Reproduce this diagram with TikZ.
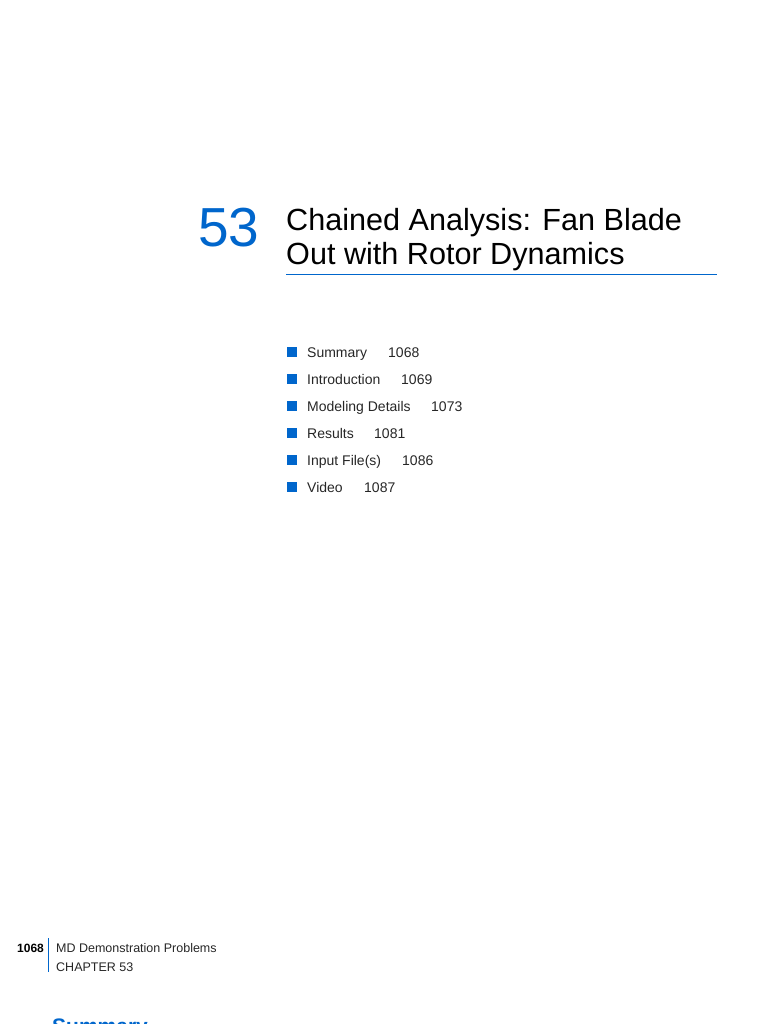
\documentclass[tikz,border=0pt]{standalone}
\usepackage{fontspec}
\setmainfont{Liberation Sans}
\definecolor{cblue}{RGB}{0,102,204}
\begin{document}
\begin{tikzpicture}[x=1pt,y=-1pt,
  t/.style={anchor=base west,inner sep=0pt},
  item/.style={t,font=\fontsize{14}{16}\selectfont,text=black!85},
  bul/.style={fill=cblue,minimum size=10pt,inner sep=0pt}]
\path[use as bounding box] (0,0) rectangle (768,1024);
\clip (0,0) rectangle (768,1024);
\node[t,text=cblue,font=\fontsize{55}{60}\selectfont] (num) at (198,246) {53};
\node[t,font=\fontsize{30.6}{34}\selectfont] (t1) at (286,230) {Chained Analysis: Fan Blade};
\node[t,font=\fontsize{30.6}{34}\selectfont] (t2) at (286,264) {Out with Rotor Dynamics};
\draw[cblue,line width=0.8pt] (286,274) -- (717,274);
\foreach \y/\a/\b/\n in {357/Summary/388/1068, 384/Introduction/401/1069, 411/Modeling Details/431/1073, 438/Results/374/1081, 465/Input File(s)/402/1086, 492/Video/364/1087}{
  \node[bul] at (291.5,\y-5.5) {};
  \node[item] at (307,\y) {\a};
  \node[item] at (\b,\y) {\n};
}
\node[t,font=\bfseries\fontsize{12}{14}\selectfont,text=black] (pg) at (17,952) {1068};
\draw[cblue,line width=0.8pt] (48,938) -- (48,972);
\node[t,font=\fontsize{12.5}{14}\selectfont,text=black!85] (f1) at (56,952) {MD Demonstration Problems};
\node[t,font=\fontsize{12.5}{14}\selectfont,text=black!85] (f2) at (56,971) {CHAPTER 53};
\node[t,font=\bfseries\fontsize{21}{24}\selectfont,text=cblue] (sum) at (52,1033) {Summary};
\end{tikzpicture}
\end{document}
